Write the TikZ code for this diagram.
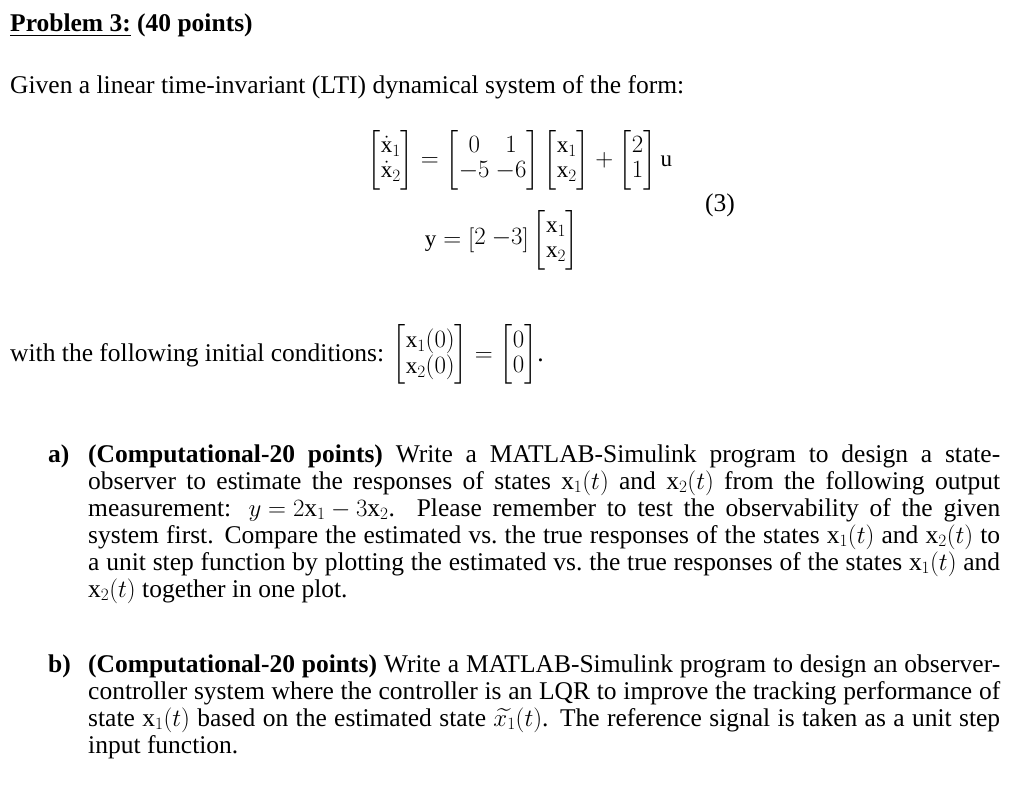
\documentclass[tikz,border=0pt]{standalone}
\usepackage{amsmath}
\usepackage{fontspec}
\setmainfont{Liberation Serif}
\newcommand\jl[1]{\makebox[912pt][s]{#1}}
\newcommand\rx[1]{\mathrm{x}_{#1}}
\newcommand\m[1]{\mbox{$#1$}}
\begin{document}
\begin{tikzpicture}[x=1pt,y=-1pt,
  txt/.style={anchor=base west,inner sep=0pt,font=\fontsize{25.5}{27}\selectfont},
  eq/.style={inner sep=0pt,font=\fontsize{23}{25}\selectfont}]
\useasboundingbox (0,0) rectangle (1024,791);
\node[txt] (title) at (10,32) {\textbf{\underline{Problem 3:} (40 points)}};
\node[txt] (given) at (10,94) {Given a linear time-invariant (LTI) dynamical system of the form:};
\node[eq] (eq1) at (520,160) {$\setlength\arraycolsep{3pt}\begin{bmatrix}\dot{\mathrm{x}}_1\\ \dot{\mathrm{x}}_2\end{bmatrix}=\begin{bmatrix}0&1\\-5&-6\end{bmatrix}\begin{bmatrix}\rx1\\ \rx2\end{bmatrix}+\begin{bmatrix}2\\1\end{bmatrix}\mathrm{u}$};
\node[txt,anchor=center,font=\fontsize{25.5}{27}\selectfont] (num) at (720,205) {(3)};
\node[eq] (eq2) at (502,240) {$\setlength\arraycolsep{3pt}\mathrm{y}=\begin{bmatrix}2&-3\end{bmatrix}\begin{bmatrix}\rx1\\ \rx2\end{bmatrix}$};
\node[txt] (ic) at (10,361) {with the following initial conditions: {\fontsize{23}{25}\selectfont$\begin{bmatrix}\rx1(0)\\ \rx2(0)\end{bmatrix}=\begin{bmatrix}0\\0\end{bmatrix}$}.};
\node[txt] (al) at (48,462) {\textbf{a)}};
\node[txt] (a1) at (88,462) {\jl{\textbf{(Computational-20 points)} Write a MATLAB-Simulink program to design a state-}};
\node[txt] (a2) at (88,489) {\jl{observer to estimate the responses of states \m{\rx1(t)} and \m{\rx2(t)} from the following output}};
\node[txt] (a3) at (88,516) {\jl{measurement: \m{y=2\rx1-3\rx2}. Please remember to test the observability of the given}};
\node[txt] (a4) at (88,543) {\jl{system first. Compare the estimated vs.\ the true responses of the states \m{\rx1(t)} and \m{\rx2(t)} to}};
\node[txt] (a5) at (88,570) {\jl{a unit step function by plotting the estimated vs.\ the true responses of the states \m{\rx1(t)} and}};
\node[txt] (a6) at (88,597) {$\rx2(t)$ together in one plot.};
\node[txt] (bl) at (48,672) {\textbf{b)}};
\node[txt] (b1) at (88,672) {\jl{\textbf{(Computational-20 points)} Write a MATLAB-Simulink program to design an observer-}};
\node[txt] (b2) at (88,699) {\jl{controller system where the controller is an LQR to improve the tracking performance of}};
\node[txt] (b3) at (88,726) {\jl{state \m{\rx1(t)} based on the estimated state \m{\widetilde{x_1}(t)}. The reference signal is taken as a unit step}};
\node[txt] (b4) at (88,753) {input function.};
\end{tikzpicture}
\end{document}
